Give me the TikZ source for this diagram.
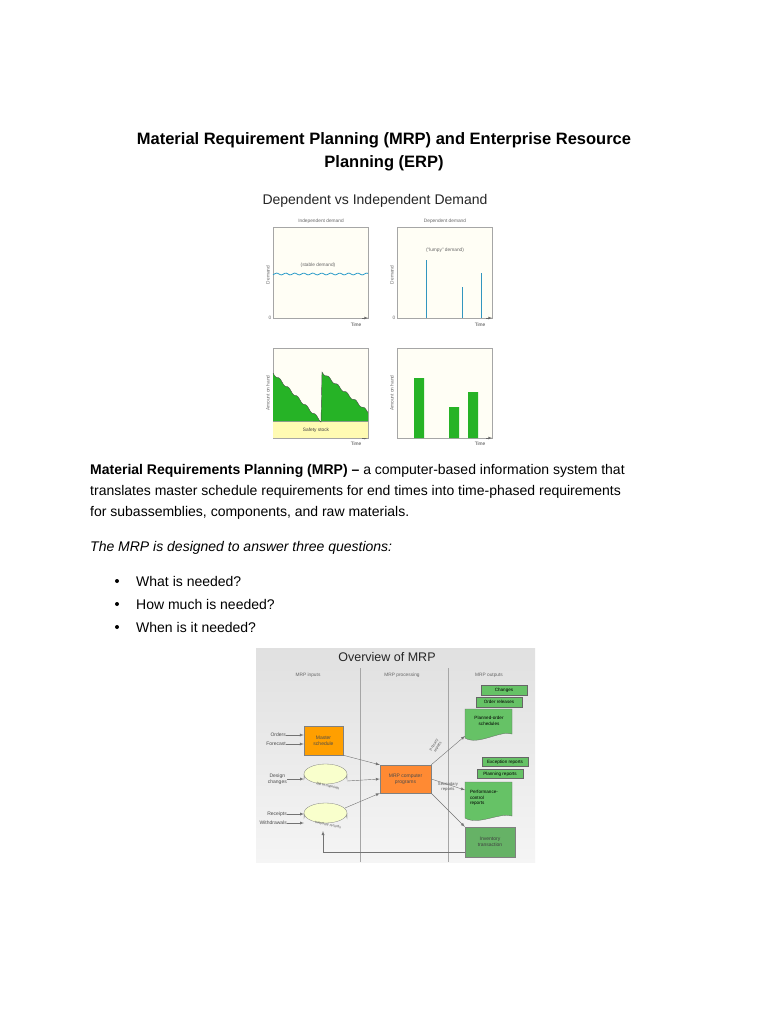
\documentclass[tikz,border=0pt]{standalone}
\usepackage{fontspec}
\setmainfont{Liberation Sans}
\begin{document}
\begin{tikzpicture}[x=1pt,y=-1pt,
  tiny/.style={font=\fontsize{4.8}{5.5}\selectfont,text=black!60,inner sep=0pt},
  small/.style={font=\fontsize{5}{5.8}\selectfont,inner sep=0pt,align=center},
  panel/.style={draw=black!35,fill=yellow!4,line width=0.5pt},
  arr/.style={-latex,draw=black!55,line width=0.4pt},
  paper/.style={draw=black!60,fill=green!60!black!60,line width=0.3pt,inner sep=1pt,font=\fontsize{4.6}{5.4}\selectfont,align=center},
  body/.style={font=\fontsize{14}{21}\selectfont,anchor=west,inner sep=0pt}]
\useasboundingbox (0,0) rectangle (768,1024);
\fill[white] (0,0) rectangle (768,1024);
% title
\node[font=\bfseries\fontsize{16.5}{23}\selectfont,align=center] (title) at (384,152) {Material Requirement Planning (MRP) and Enterprise Resource\\Planning (ERP)};
% ---- image 1
\node[font=\fontsize{14}{16}\selectfont,text=black!85] (t1) at (375,201) {Dependent vs Independent Demand};
\node[tiny] (l1) at (321,221) {Independent demand};
\node[tiny] (l2) at (445,221) {Dependent demand};
\draw[panel] (273,227) rectangle (368,318);
\draw[panel] (397,227) rectangle (492,318);
\draw[panel] (273,348) rectangle (368,438);
\draw[panel] (397,348) rectangle (492,438);
\node[tiny,rotate=90] (d1) at (268,275) {Demand};
\node[tiny,rotate=90] (d2) at (392,275) {Demand};
\node[tiny,rotate=90] (a1) at (268,393) {Amount on hand};
\node[tiny,rotate=90] (a2) at (392,393) {Amount on hand};
\node[tiny] at (270,318) {0}; \node[tiny] at (394,318) {0};
\foreach \xx in {356,480}{\node[tiny,text=black!75] at (\xx,325) {Time}; \node[tiny,text=black!75] at (\xx,444) {Time};}
\foreach \xx/\yy in {368/318,492/318,368/438,492/438}
  \draw[-latex,black!60,line width=0.3pt] (\xx-6,\yy)--(\xx,\yy);
\draw[cyan!60!teal,line width=0.8pt,domain=273:368,samples=80] plot (\x,{274+0.9*sin(\x*40)});
\node[tiny] (sd) at (318,265) {(stable demand)};
\node[tiny] (ld) at (445,250) {(``lumpy'' demand)};
\draw[cyan!50!teal,line width=0.9pt] (426,318)--(426,260);
\draw[cyan!50!teal,line width=0.9pt] (462,318)--(462,287);
\draw[cyan!50!teal,line width=0.9pt] (481,318)--(481,273);
\fill[yellow!30] (273,421) rectangle (368,438);
\draw[black!40,line width=0.3pt] (273,421)--(368,421);
\node[tiny,text=black!75] (ss) at (316,430) {Safety stock};
\fill[green!65!black!85] (273,421) -- plot[domain=273:321,samples=60] (\x,{373+(\x-273)*48/48+1.2*sin((\x-273)*40)}) -- (322,372) -- plot[domain=322:368,samples=60] (\x,{372+(\x-322)*40/46+1.2*sin((\x-322)*40)}) -- (368,421) -- cycle;
\draw[black!70,line width=0.4pt] plot[domain=273:321,samples=60] (\x,{373+(\x-273)*48/48+1.2*sin((\x-273)*40)}) -- (322,372) -- plot[domain=322:368,samples=60] (\x,{372+(\x-322)*40/46+1.2*sin((\x-322)*40)});
\fill[green!65!black!85] (414,378) rectangle (424,438) (449,407) rectangle (459,438) (468,392) rectangle (478,438);
% ---- paragraph
\node[body] (p1) at (90,471) {\textbf{Material Requirements Planning (MRP) –} a computer-based information system that};
\node[body] (p2) at (90,492) {translates master schedule requirements for end times into time-phased requirements};
\node[body] (p3) at (90,513) {for subassemblies, components, and raw materials.};
\node[body] (p4) at (90,548) {\itshape The MRP is designed to answer three questions:};
\foreach \yy/\tt in {581/What is needed?,604/How much is needed?,627/When is it needed?}{
  \fill (117,\yy) circle (2pt);
  \node[body] at (136,\yy) {\tt};}
% ---- image 2
\shade[top color=black!12,bottom color=black!4] (256,648) rectangle (535,862);
\node[font=\fontsize{12.5}{14}\selectfont,text=black!85] (t2) at (387,657) {Overview of MRP};
\node[tiny] at (308,675) {MRP inputs};
\node[tiny] at (402,675) {MRP processing};
\node[tiny] at (489,675) {MRP outputs};
\draw[black!35,line width=0.4pt] (360,668)--(360,862) (448,668)--(448,862);
\node[draw=black!50,fill=orange!75!yellow,minimum width=39pt,minimum height=29pt,small,text=black!70] (ms) at (323.5,740.5) {Master\\schedule};
\node[small,anchor=east,text=black!70] (ord) at (286,735) {Orders};
\node[small,anchor=east,text=black!70] (fc) at (286,744) {Forecast};
\draw[arr] (ord.east)--(ord.east-|ms.west);
\draw[arr] (fc.east)--(fc.east-|ms.west);
% disks
\foreach \nm/\cy/\lab in {bom/774/Bill of materials,inv/813/Inventory records}{
  \fill[black!22] (304,\cy) -- (304,\cy+5) arc[start angle=180,end angle=360,x radius=21.5,y radius=10] -- (347,\cy) -- cycle;
  \draw[black!55,line width=0.3pt] (304,\cy)--(304,\cy+5) arc[start angle=180,end angle=360,x radius=21.5,y radius=10]--(347,\cy);
  \draw[black!50,fill=green!12!yellow!20,line width=0.3pt] (325.5,\cy) ellipse[x radius=21.5,y radius=10];
  \node[font=\fontsize{3.4}{4}\selectfont,text=black!70,rotate=-12] at (328,\cy+12) {\lab};
  \coordinate (\nm) at (325.5,\cy+2);
}
\node[small,anchor=east,text=black!70] (dc) at (287,779) {Design\\changes};
\draw[arr] (dc.east)--(304,779);
\node[small,anchor=east,text=black!70] (rc) at (287,814) {Receipts};
\node[small,anchor=east,text=black!70] (wd) at (287,823) {Withdrawals};
\draw[arr] (rc.east)--(304,814);
\draw[arr] (wd.east)--(304,823);
\node[draw=black!50,fill=orange!85!red!80,minimum width=51pt,minimum height=28pt,small,text=black!70] (mrp) at (405.5,779) {MRP computer\\programs};
\draw[arr] (ms.south east)--(mrp.north west);
\draw[arr] (347,781)--(mrp.west);
\draw[arr] (345,808)--(mrp.south west);
% outputs stack 1
\node[paper,minimum width=46pt,minimum height=10pt] (ch) at (504,690) {Changes};
\node[paper,minimum width=46pt,minimum height=10pt] (or) at (499,702) {Order releases};
\fill[green!60!black!60,draw=black!60,line width=0.3pt] (465,709)--(512,709)--(512,734) .. controls (500,730) and (478,746) .. (465,738)--cycle;
\node[paper,draw=none,fill=none] (po) at (489,721) {Planned-order\\schedules};
% stack 2
\node[paper,minimum width=46pt,minimum height=9pt] (ex) at (505,762) {Exception reports};
\node[paper,minimum width=46pt,minimum height=9pt] (pl) at (500,774) {Planning reports};
\fill[green!60!black!60,draw=black!60,line width=0.3pt] (465,782)--(512,782)--(512,816) .. controls (500,812) and (478,826) .. (465,818)--cycle;
\node[paper,draw=none,fill=none,align=left] (pc) at (484,798) {Performance-\\control\\reports};
\node[draw=black!50,fill=green!50!black!60,minimum width=50pt,minimum height=30pt,small,text=black!75] (it) at (490,842) {Inventory\\transaction};
\draw[arr] (mrp.north east)--(465,736);
\node[small,text=black!65,font=\fontsize{3.8}{4.4}\selectfont,rotate=60] (prl) at (436,746) {Primary\\reports};
\draw[arr] (mrp.east)--(465,790);
\node[small,text=black!65,font=\fontsize{4.2}{4.8}\selectfont,anchor=north] (srl) at (448,782) {Secondary\\reports};
\draw[arr] (mrp.south east)--(it.north west);
\draw[arr] (it.west|-852,852)--(323,852)--(323,831);
\end{tikzpicture}
\end{document}
